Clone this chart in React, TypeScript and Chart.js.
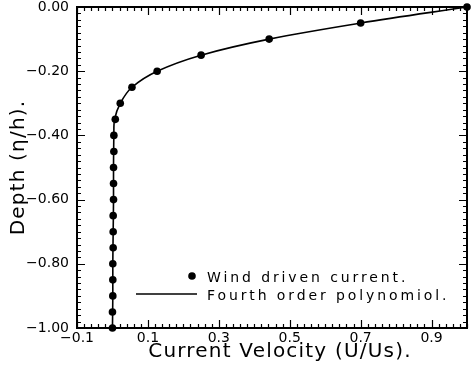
import React, { useEffect, useRef } from "react";
import { Chart, registerables } from "chart.js";

Chart.register(...registerables);

// Depth (eta/h) of the measured points
const depth = [0, -0.05, -0.1, -0.15, -0.2, -0.25, -0.3, -0.35, -0.4, -0.45, -0.5, -0.55, -0.6, -0.65, -0.7, -0.75, -0.8, -0.85, -0.9, -0.95, -1.0];
// Wind driven current velocity (U/Us)
const windCurrent = [1.0, 0.7, 0.442, 0.25, 0.126, 0.055, 0.022, 0.008, 0.004, 0.004, 0.003, 0.003, 0.003, 0.002, 0.002, 0.002, 0.001, 0.001, 0.001, 0.0, 0.0];
// Fourth order polynomial fit
const polyDepth = [0, -0.05, -0.1, -0.15, -0.2, -0.25, -0.3, -0.35, -0.4, -0.5, -0.6, -0.7, -0.8, -0.9, -1.0];
const polyVelocity = [1.0, 0.7, 0.442, 0.25, 0.126, 0.055, 0.022, 0.006, 0.004, 0.003, 0.003, 0.002, 0.001, 0.001, 0.0];

const xTickValues = [-0.1, 0.1, 0.3, 0.5, 0.7, 0.9];
const xTickLabels = ["\u22120.1", "0.1", "0.3", "0.5", "0.7", "0.9"];
const yTickValues = [0, -0.2, -0.4, -0.6, -0.8, -1.0];
const yTickLabels = ["0.00", "\u22120.20", "\u22120.40", "\u22120.60", "\u22120.80", "\u22121.00"];

const xTitle = "Current Velocity (U/Us).";
const yTitle = "Depth (\u03b7/h).";
const seriesNames = ["Wind driven current.", "Fourth order polynomiol."];

const FONT = "'DejaVu Sans', sans-serif";

const decorPlugin = {
  id: "decor",
  afterDatasetsDraw(chart: any) {
    const { ctx, chartArea } = chart;
    const xs = chart.scales.x;
    const ys = chart.scales.y;
    const { left, right, top, bottom } = chartArea;
    ctx.save();
    ctx.strokeStyle = "#000";
    ctx.lineWidth = 1.2;
    // minor / major inward ticks
    ctx.beginPath();
    for (let i = 0; i <= 55; i++) {
      const v = -0.1 + i * 0.02;
      const px = Math.round(xs.getPixelForValue(v)) + 0.5;
      const major = i % 10 === 0;
      const len = major ? 8 : 4;
      ctx.moveTo(px, bottom);
      ctx.lineTo(px, bottom - len);
      ctx.moveTo(px, top);
      ctx.lineTo(px, top + len);
    }
    for (let i = 0; i <= 50; i++) {
      const v = -i * 0.02;
      const py = Math.round(ys.getPixelForValue(v)) + 0.5;
      const major = i % 10 === 0;
      const len = major ? 8 : 4;
      ctx.moveTo(left, py);
      ctx.lineTo(left + len, py);
      ctx.moveTo(right, py);
      ctx.lineTo(right - len, py);
    }
    ctx.stroke();
    // frame
    ctx.lineWidth = 2;
    ctx.strokeRect(left, top, right - left, bottom - top);

    // legend
    ctx.fillStyle = "#000";
    ctx.font = `14px ${FONT}`;
    (ctx as any).letterSpacing = "2.9px";
    ctx.textBaseline = "middle";
    ctx.textAlign = "left";
    ctx.beginPath();
    ctx.arc(192, 276, 3.8, 0, Math.PI * 2);
    ctx.fill();
    ctx.fillText(chart.data.datasets[1].label, 207, 278);
    ctx.lineWidth = 1.6;
    ctx.beginPath();
    ctx.moveTo(136, 294);
    ctx.lineTo(197, 294);
    ctx.stroke();
    ctx.fillText(chart.data.datasets[0].label, 207, 296);

    // axis titles
    ctx.font = `20px ${FONT}`;
    (ctx as any).letterSpacing = "1.2px";
    ctx.textAlign = "center";
    ctx.fillText(xTitle, (left + right) / 2 + 8, 352);
    ctx.translate(19, (top + bottom) / 2);
    ctx.rotate(-Math.PI / 2);
    ctx.fillText(yTitle, 0, 0);
    ctx.restore();
  },
};

export default function App() {
  const canvasRef = useRef<HTMLCanvasElement | null>(null);

  useEffect(() => {
    document.body.style.margin = "0";
    const canvas = canvasRef.current;
    if (!canvas) return;
    const chart = new Chart(canvas, {
      type: "scatter",
      data: {
        datasets: [
          {
            label: seriesNames[1],
            data: polyDepth.map((d, i) => ({ x: polyVelocity[i], y: d })),
            showLine: true,
            borderColor: "#000",
            borderWidth: 1.6,
            pointRadius: 0,
            tension: 0.35,
            order: 2,
            clip: false,
          },
          {
            label: seriesNames[0],
            data: depth.map((d, i) => ({ x: windCurrent[i], y: d })),
            showLine: false,
            backgroundColor: "#000",
            borderColor: "#000",
            pointRadius: 3.8,
            pointBorderWidth: 0,
            order: 1,
            clip: false,
          },
        ],
      },
      plugins: [decorPlugin],
      options: {
        animation: false,
        responsive: false,
        devicePixelRatio: 1,
        layout: { padding: { left: 0, right: 7, top: 7, bottom: 0 } },
        plugins: { legend: { display: false }, tooltip: { enabled: false } },
        scales: {
          x: {
            type: "linear",
            min: -0.1,
            max: 1.0,
            grid: { display: false, drawTicks: false },
            border: { display: false },
            afterBuildTicks: (s: any) => {
              s.ticks = xTickValues.map((v) => ({ value: v }));
            },
            afterFit: (s: any) => {
              s.height = 38;
              s.paddingLeft = 0;
              s.paddingRight = 0;
            },
            ticks: {
              autoSkip: false,
              maxRotation: 0,
              padding: 3,
              color: "#000",
              font: { family: FONT, size: 14, lineHeight: 1 },
              callback: (_v: any, i: number) => xTickLabels[i],
            },
          },
          y: {
            type: "linear",
            min: -1.0,
            max: 0,
            grid: { display: false, drawTicks: false },
            border: { display: false },
            afterBuildTicks: (s: any) => {
              s.ticks = yTickValues.map((v) => ({ value: v }));
            },
            afterFit: (s: any) => {
              s.width = 77;
              s.paddingTop = 0;
              s.paddingBottom = 0;
            },
            ticks: {
              autoSkip: false,
              padding: 8,
              color: "#000",
              font: { family: FONT, size: 14, lineHeight: 1 },
              callback: (_v: any, i: number) => yTickLabels[i],
            },
          },
        },
      },
    });
    return () => chart.destroy();
  }, []);

  return (
    <div style={{ width: 474, height: 366 }}>
      <canvas ref={canvasRef} width={474} height={366} />
    </div>
  );
}
